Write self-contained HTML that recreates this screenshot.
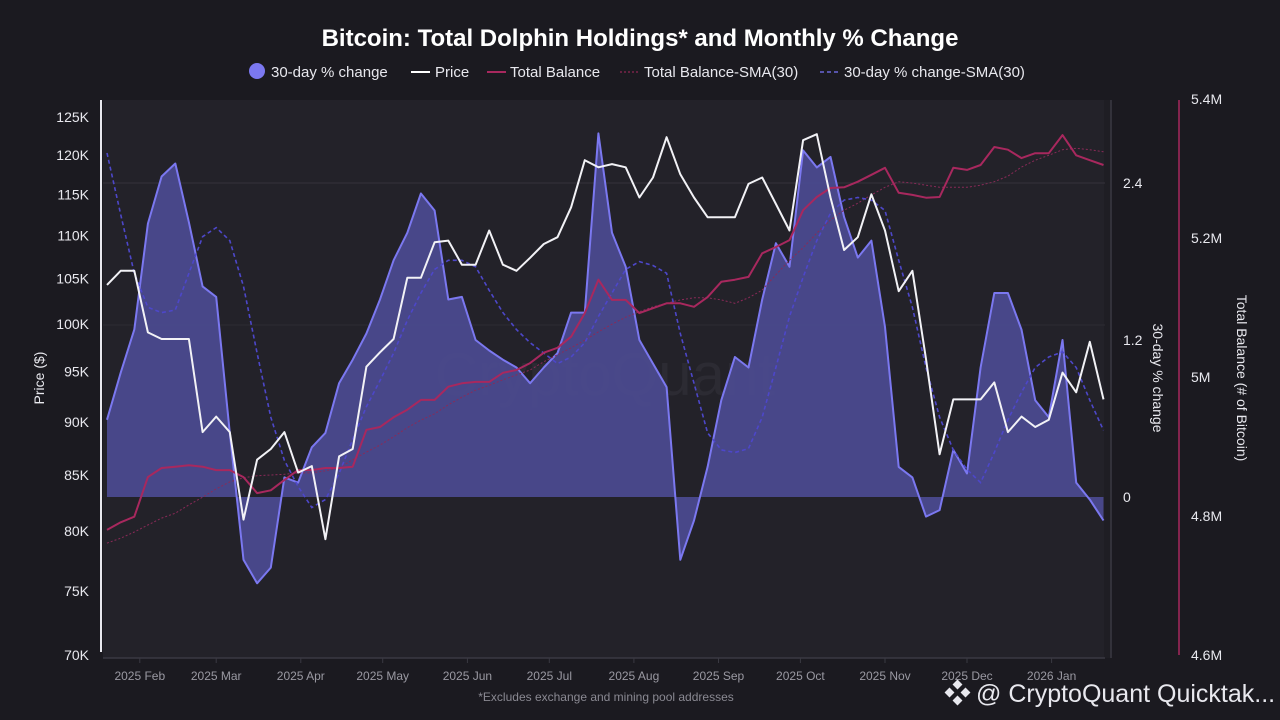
<!DOCTYPE html>
<html><head><meta charset="utf-8">
<style>
html,body{margin:0;padding:0;background:#1b1a20;width:1280px;height:720px;overflow:hidden;font-family:"Liberation Sans",sans-serif;}
svg{display:block}
</style></head>
<body>
<svg id="chart" width="1280" height="720" xmlns="http://www.w3.org/2000/svg">
  <rect x="0" y="0" width="1280" height="720" fill="#1b1a20"/>
  <text x="640" y="46" text-anchor="middle" fill="#ffffff" font-size="24" font-weight="bold">Bitcoin: Total Dolphin Holdings* and Monthly % Change</text>
  <g id="legend" font-size="15" fill="#e8e8ee">
    <g><circle cx="257" cy="71" r="8" fill="#7b78f0"/><text x="271" y="77">30-day % change</text></g>
    <g><line x1="411" y1="72" x2="430" y2="72" stroke="#fff" stroke-width="2"/><text x="435" y="77">Price</text></g>
    <g><line x1="487" y1="72" x2="506" y2="72" stroke="#a8285e" stroke-width="2"/><text x="510" y="77">Total Balance</text></g>
    <g><line x1="620" y1="72" x2="639" y2="72" stroke="#a8285e" stroke-width="1" stroke-dasharray="2,2"/><text x="644" y="77">Total Balance-SMA(30)</text></g>
    <g><line x1="820" y1="72" x2="839" y2="72" stroke="#6a66d8" stroke-width="1.5" stroke-dasharray="4,3"/><text x="844" y="77">30-day % change-SMA(30)</text></g>
  </g>
  <rect x="103" y="100" width="1002" height="558" fill="#232229"/>
  <rect x="1104" y="100" width="7" height="558" fill="#1f1e24"/>
  <line x1="103" y1="183" x2="1105" y2="183" stroke="#34333b" stroke-width="1"/>
  <line x1="103" y1="325" x2="1105" y2="325" stroke="#2d2c34" stroke-width="1"/>
  <text x="605" y="395" text-anchor="middle" fill="#2c2b33" font-size="60">CryptoQuant</text>
  <g id="series"></g>
  <line x1="101" y1="100" x2="101" y2="652" stroke="#e8e8ee" stroke-width="2"/>
  <line x1="103" y1="658" x2="1105" y2="658" stroke="#3a3942" stroke-width="1.5"/>
  <line x1="1111" y1="100" x2="1111" y2="658" stroke="#3a3942" stroke-width="1.5"/>
  <line x1="1179" y1="100" x2="1179" y2="655" stroke="#a8285e" stroke-width="1.5"/>
  <g id="axes" font-size="14" fill="#e8e8ee"></g>
  <text transform="translate(44,378) rotate(-90)" text-anchor="middle" fill="#e8e8ee" font-size="14">Price ($)</text>
  <text transform="translate(1153,378) rotate(90)" text-anchor="middle" fill="#e8e8ee" font-size="14">30-day % change</text>
  <text transform="translate(1237,378) rotate(90)" text-anchor="middle" fill="#e8e8ee" font-size="14">Total Balance (# of Bitcoin)</text>
  <text x="606" y="701" text-anchor="middle" fill="#8a8992" font-size="12">*Excludes exchange and mining pool addresses</text>
  <g>
    <g transform="translate(958,693)" fill="#e8e8ee">
      <rect x="-4" y="-12" width="7" height="7" transform="rotate(45 -0.5 -8.5)"/>
      <rect x="-12" y="-4" width="7" height="7" transform="rotate(45 -8.5 -0.5)"/>
      <rect x="4" y="-4" width="7" height="7" transform="rotate(45 7.5 -0.5)"/>
      <rect x="-4" y="4" width="7" height="7" transform="rotate(45 -0.5 7.5)"/>
    </g>
    <text x="976" y="702" fill="#e8e8ee" font-size="25">@ CryptoQuant Quicktak...</text>
  </g>
</svg>
<script>
// Day offsets from 2025-01-20, sampled every 5 days
const startDate = "2025-01-20";
const sampleStepDays = 5;
const pctChange = [0.59,0.95,1.28,2.09,2.45,2.55,2.10,1.61,1.53,0.49,-0.48,-0.66,-0.54,0.15,0.11,0.38,0.49,0.87,1.05,1.25,1.51,1.81,2.02,2.32,2.19,1.51,1.53,1.20,1.12,1.05,0.99,0.87,0.99,1.10,1.41,1.41,2.78,2.02,1.76,1.20,1.02,0.84,-0.48,-0.18,0.23,0.74,1.07,0.99,1.51,1.94,1.76,2.65,2.52,2.60,2.14,1.83,1.96,1.30,0.23,0.15,-0.15,-0.10,0.36,0.18,0.99,1.56,1.56,1.28,0.74,0.61,1.20,0.11,-0.02,-0.18];
const priceK = [104.3,105.9,105.9,99.1,98.4,98.4,98.4,89.0,90.5,89.0,81.0,86.4,87.4,89.0,85.2,85.8,79.3,86.7,87.4,95.5,97.0,98.4,105.1,105.1,109.2,109.4,106.6,106.6,110.6,106.6,105.9,107.4,109.0,109.8,113.4,119.3,118.4,118.8,118.4,114.6,117.1,122.3,117.5,114.6,112.2,112.2,112.2,116.3,117.1,113.8,110.6,121.9,122.7,114.6,108.3,109.8,115.0,110.6,103.6,105.9,96.3,86.9,92.2,92.2,92.2,93.9,89.0,90.5,89.5,90.2,94.9,92.9,98.1,92.2];
const balanceM = [4.780,4.791,4.799,4.856,4.869,4.871,4.873,4.871,4.866,4.866,4.856,4.833,4.837,4.852,4.866,4.866,4.869,4.869,4.871,4.924,4.928,4.942,4.953,4.967,4.967,4.986,4.991,4.993,4.993,5.006,5.010,5.020,5.035,5.042,5.058,5.092,5.140,5.111,5.111,5.092,5.099,5.106,5.106,5.101,5.115,5.137,5.140,5.144,5.178,5.187,5.197,5.240,5.259,5.272,5.273,5.281,5.291,5.301,5.265,5.262,5.258,5.259,5.301,5.298,5.305,5.331,5.327,5.315,5.322,5.322,5.348,5.319,5.312,5.305];
const balanceSmaM = [4.761,4.768,4.777,4.787,4.797,4.804,4.816,4.827,4.839,4.849,4.855,4.858,4.859,4.860,4.862,4.862,4.865,4.869,4.881,4.892,4.902,4.914,4.927,4.938,4.947,4.960,4.971,4.981,4.988,4.996,5.003,5.010,5.022,5.032,5.042,5.053,5.065,5.076,5.086,5.094,5.101,5.106,5.111,5.114,5.114,5.111,5.106,5.114,5.125,5.147,5.168,5.186,5.207,5.226,5.240,5.250,5.262,5.273,5.281,5.279,5.276,5.273,5.273,5.273,5.276,5.281,5.289,5.302,5.312,5.319,5.327,5.329,5.327,5.324];
const pctSma = [2.63,2.16,1.71,1.45,1.41,1.43,1.71,1.99,2.06,1.96,1.61,1.10,0.61,0.28,0.08,-0.08,-0.02,0.18,0.44,0.69,0.89,1.10,1.35,1.56,1.74,1.81,1.81,1.76,1.58,1.41,1.28,1.18,1.10,1.02,1.07,1.18,1.38,1.56,1.74,1.80,1.77,1.71,1.25,0.87,0.49,0.36,0.34,0.37,0.61,0.99,1.38,1.68,1.96,2.17,2.27,2.29,2.27,2.19,1.81,1.45,0.99,0.61,0.36,0.21,0.11,0.34,0.59,0.80,0.99,1.07,1.11,0.99,0.74,0.51];
const priceTicks = [70,75,80,85,90,95,100,105,110,115,120,125];
const pctTicks = [0, 1.2, 2.4];
const balanceTicks = [4.6, 4.8, 5.0, 5.2, 5.4];
const monthLabels = ["2025 Feb","2025 Mar","2025 Apr","2025 May","2025 Jun","2025 Jul","2025 Aug","2025 Sep","2025 Oct","2025 Nov","2025 Dec","2026 Jan"];
const monthStarts = ["2025-02-01","2025-03-01","2025-04-01","2025-05-01","2025-06-01","2025-07-01","2025-08-01","2025-09-01","2025-10-01","2025-11-01","2025-12-01","2026-01-01"];

const NS = "http://www.w3.org/2000/svg";
const X0 = 107, PX_PER_DAY = 2.73;
const t0 = Date.parse(startDate);
function xDay(d){ return X0 + d*PX_PER_DAY; }
function xDate(s){ return xDay((Date.parse(s)-t0)/86400000); }
function xIdx(i){ return xDay(i*sampleStepDays); }
function yPrice(k){ return 655 - 928*Math.log(k/70); }
function yPct(v){ return 497 - v*130.8; }
function yBal(m){ return 655 - (m-4.6)*695; }
function mk(tag, attrs, parent){ const e=document.createElementNS(NS,tag); for(const k in attrs) e.setAttribute(k,attrs[k]); parent.appendChild(e); return e; }
function pathFrom(arr, yf){ return arr.map((v,i)=>(i?"L":"M")+xIdx(i).toFixed(1)+","+yf(v).toFixed(1)).join(""); }

const series = document.getElementById("series");
const axes = document.getElementById("axes");

// area for pct change
const y0 = yPct(0);
const area = mk("path",{d: pathFrom(pctChange,yPct)+"L"+xIdx(pctChange.length-1).toFixed(1)+","+y0+"L"+xIdx(0)+","+y0+"Z", fill:"#4b4a8e", "fill-opacity":"0.95"}, series);


const pl = mk("path",{d: pathFrom(pctChange,yPct), fill:"none", stroke:"#7b78f0", "stroke-width":"2", "stroke-linejoin":"round"}, series);



const bs = mk("path",{d: pathFrom(balanceSmaM,yBal), fill:"none", stroke:"#8a2a58", "stroke-width":"1", "stroke-dasharray":"2,2"}, series);


const ps = mk("path",{d: pathFrom(pctSma,yPct), fill:"none", stroke:"#4d47c9", "stroke-width":"1.6", "stroke-dasharray":"4,3"}, series);


const bl = mk("path",{d: pathFrom(balanceM,yBal), fill:"none", stroke:"#a8285e", "stroke-width":"2", "stroke-linejoin":"round"}, series);


const pr = mk("path",{d: pathFrom(priceK,yPrice), fill:"none", stroke:"#f2f2f6", "stroke-width":"2", "stroke-linejoin":"round"}, series);



priceTicks.forEach(k=>{
  const t = mk("text",{x:89, y:(yPrice(k)+5).toFixed(1), "text-anchor":"end"}, axes);
  t.textContent = k+"K";
  
  
});
pctTicks.forEach(v=>{
  const t = mk("text",{x:1123, y:(yPct(v)+5).toFixed(1)}, axes);
  t.textContent = v===0?"0":v.toFixed(1);
  
  
});
balanceTicks.forEach(m=>{
  const t = mk("text",{x:1191, y:(yBal(m)+5).toFixed(1)}, axes);
  t.textContent = (m===5?"5":m.toFixed(1))+"M";
  
  
});
monthLabels.forEach((lab,i)=>{
  const x = xDate(monthStarts[i]);
  const tk = mk("line",{x1:x.toFixed(1), y1:658, x2:x.toFixed(1), y2:663, stroke:"#3a3942"}, axes);
  
  
  const t = mk("text",{x:x.toFixed(1), y:680, "text-anchor":"middle", "font-size":"12", fill:"#9a99a2"}, axes);
  t.textContent = lab;
  
  
});
</script>
</body></html>
